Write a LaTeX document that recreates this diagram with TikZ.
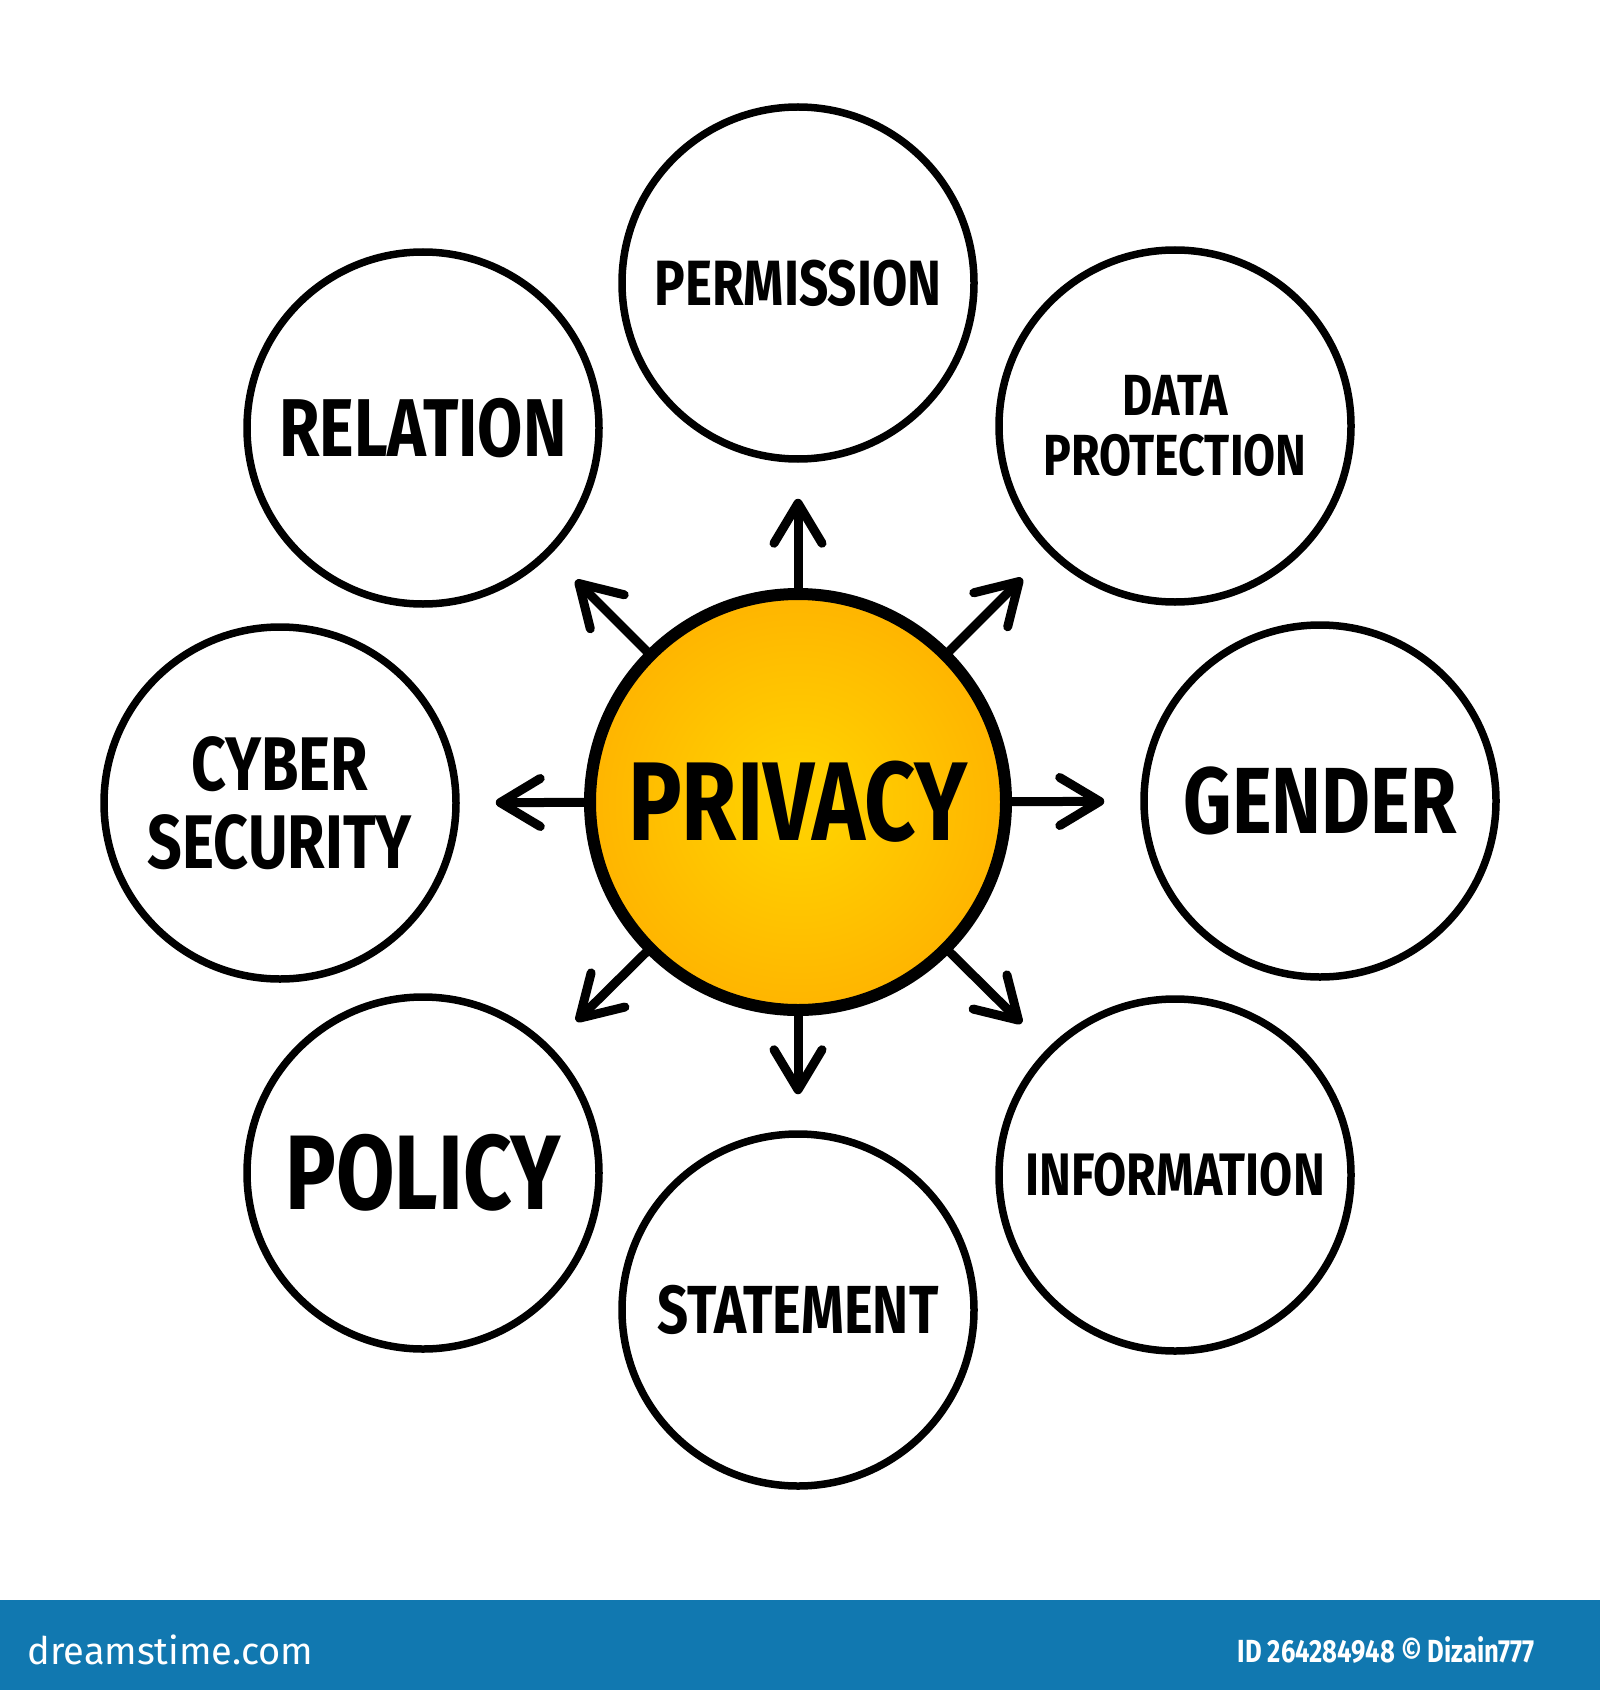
\documentclass[tikz,border=0pt]{standalone}
\usepackage{fontspec}
\setmainfont{Fira Sans}
\newfontfamily\handfont{Fira Sans}[FakeStretch=0.8]
\usetikzlibrary{arrows.meta}

\definecolor{hubyellow}{HTML}{FFCF00}
\definecolor{huborange}{HTML}{FF9E00}
\definecolor{barblue}{HTML}{1178B0}
\pgfdeclareradialshading{hubglow}{\pgfpoint{0bp}{0bp}}{color(0bp)=(hubyellow); color(5bp)=(hubyellow); color(42bp)=(huborange); color(100bp)=(huborange)}

\tikzset{every picture/.style={line width=0.75pt}}

\begin{document}
\begin{tikzpicture}[x=0.5pt,y=0.5pt,yscale=-1,xscale=1,
	bubble/.style={circle, draw=black, fill=white, line width=3.75pt, minimum size=176pt, inner sep=0pt, align=center},
	hub/.style={circle, draw=black, line width=6pt, minimum size=208pt, inner sep=0pt, shading=hubglow},
	lbl/.style n args={2}{font=\handfont\bfseries\fontsize{#1}{#2}\selectfont},
	spoke/.style={line width=4.5pt, line cap=round, -{Straight Barb[length=20pt,width=24pt,round]}, shorten >=18pt}]
	\useasboundingbox (0,0) rectangle (1600,1690);
	
	%Shape: Circle [hub]
	\node [hub, lbl={56}{60}] (privacy) at (798,802) {PRIVACY};
	
	%Shape: Circle [outer ring]
	\node [bubble, lbl={32}{34}] (permission) at (798,283) {PERMISSION};
	\node [bubble, lbl={29}{30}] (dataprot) at (1175,426) {DATA\\PROTECTION};
	\node [bubble, lbl={47}{50}] (gender) at (1320,801) {GENDER};
	\node [bubble, lbl={30}{32}] (information) at (1175,1175) {INFORMATION};
	\node [bubble, lbl={34}{36}] (statement) at (798,1310) {STATEMENT};
	\node [bubble, lbl={53}{56}] (policy) at (423,1173) {POLICY};
	\node [bubble, lbl={38}{39}] (cyber) at (280,803) {CYBER\\SECURITY};
	\node [bubble, lbl={41}{44}] (relation) at (423,428) {RELATION};
	
	%Straight Lines [spokes]
	\foreach \leaf in {permission,dataprot,gender,information,statement,policy,cyber,relation}
		\draw [spoke] (privacy) -- (\leaf);
	
	%Shape: Rectangle [footer]
	\fill [barblue] (0,1600) rectangle (1600,1690);
	% Text Node
	\node [anchor=west, text=white, font=\fontsize{19}{20}\selectfont] (brand) at (20,1650) {dreamstime.com};
	% Text Node
	\node [anchor=east, text=white, font=\handfont\bfseries\fontsize{16}{18}\selectfont] (credit) at (1542,1650) {ID 264284948 © Dizain777};
\end{tikzpicture}
\end{document}
